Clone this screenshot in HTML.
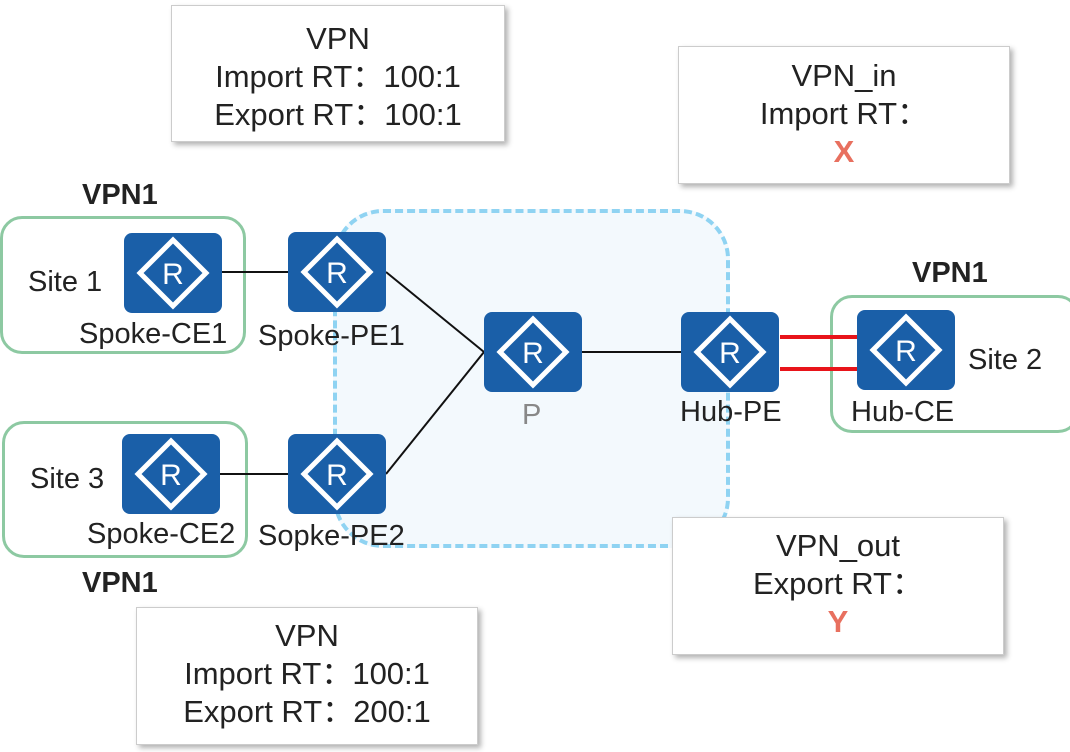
<!DOCTYPE html>
<html><head><meta charset="utf-8"><style>
body{margin:0;width:1070px;height:752px;background:#fff;position:relative;overflow:hidden;font-family:"Liberation Sans","DejaVu Sans",sans-serif;color:#222}
.a{position:absolute}
.box{position:absolute;background:#fff;border:1px solid #ccc;box-shadow:3px 3px 5px rgba(0,0,0,.3);text-align:center;font-size:31px;line-height:38px;box-sizing:border-box}
.g{position:absolute;border:3px solid #8dc9a2;border-radius:22px;box-sizing:border-box}
.r{position:absolute;width:98px;height:80px;background:#1a5fa8;border-radius:8px}
.r svg{position:absolute;left:0;top:0}
.l{position:absolute;font-size:29px;white-space:nowrap}
.b{position:absolute;font-size:29px;font-weight:bold}
</style></head><body>
<div class="a" style="left:333px;top:209px;width:397px;height:339px;border:4px dashed #8fd3f2;border-radius:50px;background:#f3f9fd;box-sizing:border-box"></div>
<div class="g" style="left:0;top:216px;width:246px;height:138px"></div>
<div class="g" style="left:2px;top:421px;width:246px;height:137px"></div>
<div class="g" style="left:830px;top:295px;width:250px;height:138px"></div>
<svg class="a" style="left:0;top:0" width="1070" height="752">
<g stroke="#111" stroke-width="2">
<line x1="222" y1="272" x2="288" y2="272"/><line x1="220" y1="474" x2="288" y2="474"/>
<line x1="386" y1="272" x2="484" y2="352"/><line x1="386" y1="474" x2="484" y2="352"/>
<line x1="582" y1="352" x2="681" y2="352"/></g>
<g stroke="#e8141a" stroke-width="4"><line x1="780" y1="337" x2="857" y2="337"/><line x1="780" y1="369" x2="857" y2="369"/></g>
</svg>
<div class="box" style="left:171px;top:5px;width:334px;height:137px;padding-top:14px">VPN<br>Import RT：100:1<br>Export RT：100:1</div>
<div class="box" style="left:678px;top:46px;width:332px;height:138px;padding-top:10px">VPN_in<br>Import RT：<br><b style="color:#e8705f">X</b></div>
<div class="box" style="left:672px;top:517px;width:332px;height:138px;padding-top:9px">VPN_out<br>Export RT：<br><b style="color:#e8705f">Y</b></div>
<div class="box" style="left:136px;top:607px;width:342px;height:138px;padding-top:9px">VPN<br>Import RT：100:1<br>Export RT：200:1</div>
<div class="b" style="left:82px;top:179px">VPN1</div>
<div class="b" style="left:82px;top:567px">VPN1</div>
<div class="b" style="left:912px;top:257px">VPN1</div>
<div class="l" style="left:28px;top:266px">Site 1</div>
<div class="l" style="left:30px;top:463px">Site 3</div>
<div class="l" style="left:968px;top:344px">Site 2</div>
<div class="l" style="left:79px;top:318px">Spoke-CE1</div>
<div class="l" style="left:258px;top:320px">Spoke-PE1</div>
<div class="l" style="left:87px;top:518px">Spoke-CE2</div>
<div class="l" style="left:258px;top:520px">Sopke-PE2</div>
<div class="l" style="left:522px;top:399px;color:#888">P</div>
<div class="l" style="left:680px;top:396px">Hub-PE</div>
<div class="l" style="left:851px;top:396px">Hub-CE</div>
<div class="r" style="left:124px;top:233px"></div>
<div class="r" style="left:288px;top:232px"></div>
<div class="r" style="left:484px;top:312px"></div>
<div class="r" style="left:681px;top:312px"></div>
<div class="r" style="left:857px;top:310px"></div>
<div class="r" style="left:122px;top:434px"></div>
<div class="r" style="left:288px;top:434px"></div>
<script>
document.querySelectorAll('.r').forEach(function(e){e.innerHTML='<svg width="98" height="80"><polygon points="49,7 82,40 49,73 16,40" fill="none" stroke="#fff" stroke-width="5"/><text x="49" y="51" text-anchor="middle" font-family="Liberation Sans,sans-serif" font-size="30" fill="#fff">R</text></svg>';});
</script>
</body></html>
